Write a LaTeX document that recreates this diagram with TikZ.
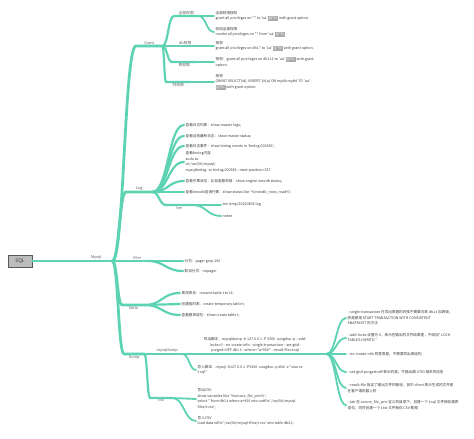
\documentclass[tikz,border=0pt]{standalone}
\usepackage{fontspec}
\setmainfont{Noto Sans CJK SC}[Ligatures=TeXOff]
\usetikzlibrary{calc}
\definecolor{mint}{HTML}{5ED3B3}
\definecolor{ink}{HTML}{3A3A3A}
\definecolor{slate}{HTML}{5A5A5A}
\definecolor{rootgray}{HTML}{BDBDBD}
\definecolor{pwgray}{HTML}{ABABAB}
\newcommand{\pw}{{\setlength{\fboxsep}{0.6pt}\colorbox{pwgray}{\textcolor{white}{@'\%'}}}}

\begin{document}
\begin{tikzpicture}[x=1pt,y=-1pt,font=\fontsize{3.6}{5.6}\selectfont,text=ink,
  root/.style={draw=gray!70!black,fill=rootgray,line width=0.4pt,minimum width=24pt,minimum height=12pt,inner sep=0pt,font=\fontsize{5}{6}\selectfont},
  tup/.style={anchor=south west,minimum width=#1pt,inner xsep=0pt,inner ysep=1.3pt,text=slate,font=\fontsize{3.8}{5.6}\selectfont},
  tdown/.style={anchor=north west,minimum width=#1pt,inner xsep=0pt,inner ysep=1.3pt,text=slate,font=\fontsize{3.8}{5.6}\selectfont},
  leaf/.style={anchor=west,align=left,inner xsep=1.5pt,inner ysep=0pt},
  l1/.style={draw=mint,line width=2.8pt,line cap=round},
  l2/.style={draw=mint,line width=2.2pt,line cap=round},
  l3/.style={draw=mint,line width=1.8pt,line cap=round},
  sbend/.style={to path={.. controls ($(\tikztostart)!.5!(\tikztostart -| \tikztotarget)$) and ($(\tikztotarget)!.5!(\tikztotarget -| \tikztostart)$) .. (\tikztotarget)}}]
\useasboundingbox (0,0) rectangle (474,439);

% ---- root
\node[root] (sql) at (20,261) {SQL};
\node[tup=32] (mysql) at (80,261) {Mysql};
\draw[l1] (sql.east) -- (mysql.south west) -- (mysql.south east);

% ---- first level
\node[tup=26] (grant) at (136,46) {Grant};
\node[tup=26] (log) at (126,192) {Log};
\node[tup=20] (filer) at (127,261) {Filer};
\node[tdown=22] (table) at (122,305) {Table};
\node[tdown=20] (dump) at (124,354) {Dump};
\foreach \t in {grant,log,filer}
  \draw[l1] (mysql.south east) to[sbend] (\t.south west) -- (\t.south east);
\foreach \t in {table,dump}
  \draw[l1] (mysql.south east) to[sbend] (\t.north west) -- (\t.north east);

% ---- Grant
\node[tup=24] (allpriv) at (174,16) {全部权限};
\node[tup=26] (dbpriv) at (172,46) {db权限};
\node[tdown=24] (tblpriv) at (172,62) {表权限};
\node[tdown=24] (colpriv) at (166,82) {列权限};
\foreach \t in {allpriv,dbpriv}
  \draw[l2] (grant.south east) to[sbend] (\t.south west) -- (\t.south east);
\foreach \t in {tblpriv,colpriv}
  \draw[l2] (grant.south east) to[sbend] (\t.north west) -- (\t.north east);
\node[leaf] (grantall) at (214,16) {全部权限授权\\grant all privileges on *.* to 'ua' \pw{} with grant option.};
\node[leaf] (revokeall) at (214,32) {收回全部权限\\revoke all privileges on *.* from 'ua' \pw};
\node[leaf] (dbgrant) at (214,46) {授权\\grant all privileges on db1.* to 'ua' \pw{} with grant option.};
\node[leaf] (tblgrant) at (214,62) {授权：grant all privileges on db1.t1 to 'ua' \pw{} with grant\\option.};
\node[leaf] (colgrant) at (214,82) {授权\\GRANT SELECT(id), INSERT (id,a) ON mydb.mytbl TO 'ua'\\\pw{} with grant option.};
\draw[l3] (allpriv.south east) to[sbend] (grantall.west);
\draw[l3] (allpriv.south east) to[sbend] (revokeall.west);
\draw[l3] (dbpriv.south east) to[sbend] (dbgrant.west);
\draw[l3] (tblpriv.north east) to[sbend] (tblgrant.west);
\draw[l3] (colpriv.north east) to[sbend] (colgrant.west);

% ---- Log
\node[leaf] (logs) at (184,125) {查看日志列表：show master logs;};
\node[leaf] (status) at (184,136) {查看当前最新日志：show master status;};
\node[leaf] (events) at (184,146) {查看日志事件：show binlog events in 'binlog.000386';};
\node[leaf] (content) at (184,162) {查看binlog内容\\sudo su\\cd /var/lib/mysql/\\mysqlbinlog -vv binlog.000386 --start-position=327};
\node[leaf] (engine) at (184,181) {查看引擎状态，比如查看死锁：show engine innodb status;};
\node[leaf] (rows) at (184,192) {查看innodb查询行数：show status like '\%innodb\_rows\_read\%';};
\foreach \t in {logs,status,events,content,engine,rows}
  \draw[l2] (log.south east) to[sbend] (\t.west);
\node[tdown=26] (tee) at (166,205) {tee};
\draw[l2] (log.south east) to[sbend] (tee.north west) -- (tee.north east);
\node[leaf] (teeon) at (221,205) {tee /tmp/20220805.log};
\node[leaf] (teeoff) at (221,216) {notee};
\draw[l3] (tee.north east) to[sbend] (teeon.west);
\draw[l3] (tee.north east) to[sbend] (teeoff.west);

% ---- Filer
\node[leaf] (pager) at (183,261) {分页：pager grep 100};
\node[leaf] (nopager) at (183,271) {取消分页：nopager};
\draw[l2] (filer.south east) to[sbend] (pager.west);
\draw[l2] (filer.south east) to[sbend] (nopager.west);

% ---- Table
\node[leaf] (rename) at (180,293) {更改表名：rename table t to t2;};
\node[leaf] (temp) at (180,304) {创建临时表：create temporary table t;};
\node[leaf] (showct) at (180,315) {查看建表语句：show create table t;};
\foreach \t in {rename,temp,showct}
  \draw[l2] (table.north east) to[sbend] (\t.west);

% ---- Dump
\node[tup=30] (mysqldump) at (152,354) {mysqldump};
\node[tdown=22] (csv) at (150,398) {csv};
\draw[l2] (dump.north east) -- (mysqldump.south west) -- (mysqldump.south east);
\draw[l2] (dump.north east) to[sbend] (csv.north west) -- (csv.north east);
\node[tup=142,align=center,text=ink,font=\fontsize{3.6}{5.6}\selectfont] (export) at (184,354)
  {导出脚本：mysqldump -h 127.0.0.1 -P 3306 -uxxgdsu -p --add-\\locks=0 --no-create-info --single-transaction --set-gtid-\\purged=OFF db1 t --where="a>900" --result-file=t.sql};
\draw[l3] (mysqldump.south east) -- (export.south west) -- (export.south east);
\node[leaf] (import) at (196,370) {导入脚本：mysql -h127.0.0.1 -P3306 -uxxgdsu -p db2 -e "source\\t.sql"};
\draw[l3] (mysqldump.south east) to[sbend] (import.west);
\node[leaf] (outcsv) at (196,399) {导出CSV\\show variables like '\%secure\_file\_priv\%';\\select * from db1.t where a>900 into outfile '/var/lib/mysql-\\files/t.csv';};
\node[leaf] (incsv) at (196,421) {导入CSV\\load data infile '/var/lib/mysql-files/t.csv' into table db2.t;};
\draw[l3] (csv.north east) to[sbend] (outcsv.west);
\draw[l3] (csv.north east) to[sbend] (incsv.west);

% ---- mysqldump options
\node[leaf] (optsingle) at (346,318) {--single-transaction 在导出数据的时候不需要对表 db1.t 加表锁，\\而是使用 START TRANSACTION WITH CONSISTENT\\SNAPSHOT 的方法};
\node[leaf] (optlocks) at (346,338) {--add-locks 设置为 0，表示在输出的文件结果里，不增加" LOCK\\TABLES t WRITE;"};
\node[leaf] (optinfo) at (346,354) {--no-create-info 的意思是，不需要导出表结构};
\node[leaf] (optgtid) at (346,372) {--set-gtid-purged=off 表示的是，不输出跟 GTID 相关的信息};
\node[leaf] (optfile) at (346,388) {--result-file 指定了输出文件的路径，其中 client 表示生成的文件是\\在客户端机器上的};
\node[leaf] (opttab) at (346,405) {--tab 在 secure\_file\_priv 定义的目录下，创建一个 t.sql 文件保存建表\\语句，同时创建一个 t.txt 文件保存 CSV 数据};
\foreach \t in {optsingle,optlocks,optinfo,optgtid,optfile,opttab}
  \draw[l3] (export.south east) to[sbend] (\t.west);
\end{tikzpicture}
\end{document}
